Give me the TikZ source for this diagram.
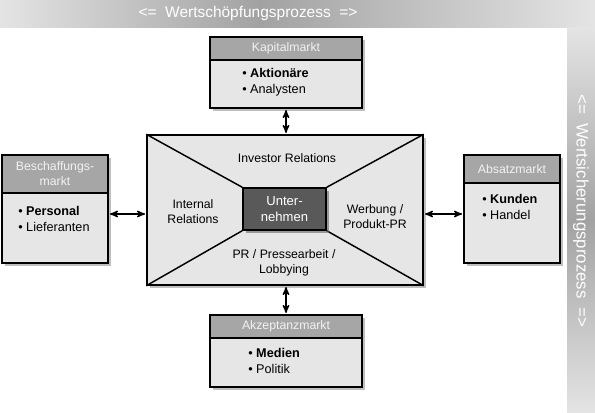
\documentclass[tikz,border=0pt]{standalone}
\usepackage{fontspec}
\setmainfont{Liberation Sans}
\usepackage{tikz}
\usetikzlibrary{
    arrows,
    shadows,
    positioning,
    calc
}
\definecolor{kopfgrau}{HTML}{A6A6A6}
\definecolor{feldgrau}{HTML}{E6E6E6}
\definecolor{kerngrau}{HTML}{595959}
\definecolor{bandhell}{HTML}{E4E4E4}
\definecolor{banddunkel}{HTML}{A2A2A2}
\tikzset{
    kasten/.style={draw=black, line width=1.1pt, fill=feldgrau, inner sep=0pt,
        drop shadow={shadow xshift=2.2pt, shadow yshift=-2.2pt, opacity=0.5}},
    kopf/.style={kasten, fill=kopfgrau, text=white!95!black, align=center,
        font=\fontsize{9.2}{11.4}\selectfont},
    liste/.style={anchor=north west, align=left, inner sep=0pt,
        font=\fontsize{9.5}{12.3}\selectfont},
    feld/.style={align=center, inner sep=0pt, font=\fontsize{9.2}{11.3}\selectfont},
    band/.style={text=white, inner sep=0pt, font=\fontsize{11.6}{14}\selectfont},
    pfeil/.style={<->, >=stealth', line width=1.1pt, shorten <=1pt, shorten >=1pt}
}

\begin{document}
\begin{tikzpicture}[x=0.75pt, y=-0.75pt]
    \useasboundingbox (0,0) rectangle (595,413);

    \shade[left color=bandhell, right color=banddunkel] (0,1) rectangle (260,28);
    \shade[left color=banddunkel, right color=bandhell] (260,1) rectangle (595,28);
    \shade[top color=bandhell, bottom color=banddunkel] (567,28) rectangle (595,220);
    \shade[top color=banddunkel, bottom color=bandhell] (567,220) rectangle (595,413);
    \node[band] (wertschoepfung) at (248,14) {<=\ \ Wertschöpfungsprozess\ \ =>};
    \node[band, rotate=-90, font=\fontsize{12.6}{14}\selectfont] (wertsicherung) at (581,211) {<=\ \ Wertsicherungsprozess\ \ =>};

    \node[kasten, minimum width=207pt, minimum height=112.5pt] (zentrum) at (285,210) {};
    \node[kasten, fill=kerngrau, minimum width=62.25pt, minimum height=31.5pt, drop shadow={opacity=0}] (kern) at (284.5,209) {};
    \draw[line width=1.1pt]
    (zentrum.north west) -- (kern.north west)
    (zentrum.north east) -- (kern.north east)
    (zentrum.south west) -- (kern.south west)
    (zentrum.south east) -- (kern.south east);
    \node[kasten, fill=kerngrau, minimum width=62.25pt, minimum height=31.5pt, drop shadow={opacity=0},
        text=white, align=center, font=\fontsize{9.8}{11.6}\selectfont] (unternehmen) at (284.5,209) {Unter-\\nehmen};

    \node[feld] (investor) at (287,158) {Investor Relations};
    \node[feld] (internal) at (193,212) {Internal\\Relations};
    \node[feld] (werbung) at (375,217) {Werbung /\\Produkt-PR};
    \node[feld] (presse) at (284,263) {PR / Pressearbeit /\\Lobbying};

    \node[kopf, minimum width=114pt, minimum height=17.25pt] (kapitalkopf) at (286,48.5) {Kapitalmarkt};
    \node[kasten, minimum width=114pt, minimum height=36pt] (kapital) at (286,84) {};
    \node[liste] (kapitalliste) at (242,68) {• \textbf{Aktionäre}\\• Analysten};

    \node[kopf, minimum width=79.5pt, minimum height=28.5pt] (beschaffungkopf) at (55,174) {Beschaffungs-\\markt};
    \node[kasten, minimum width=79.5pt, minimum height=52.5pt] (beschaffung) at (55,228) {};
    \node[liste] (beschaffungliste) at (18,206) {• \textbf{Personal}\\• Lieferanten};

    \node[kopf, minimum width=72pt, minimum height=21pt] (absatzkopf) at (512,169) {Absatzmarkt};
    \node[kasten, minimum width=72pt, minimum height=60pt] (absatz) at (512,223) {};
    \node[liste] (absatzliste) at (482,194) {• \textbf{Kunden}\\• Handel};

    \node[kopf, minimum width=114pt, minimum height=17.25pt] (akzeptanzkopf) at (286,326.5) {Akzeptanzmarkt};
    \node[kasten, minimum width=114pt, minimum height=36.75pt] (akzeptanz) at (286,362.5) {};
    \node[liste] (akzeptanzliste) at (248,348) {• \textbf{Medien}\\• Politik};

    \draw[pfeil] (kapital.south) -- (kapital.south |- zentrum.north);
    \draw[pfeil] (akzeptanzkopf.north) -- (akzeptanzkopf.north |- zentrum.south);
    \draw[pfeil] (beschaffung.east |- 0,214) -- (zentrum.west |- 0,214);
    \draw[pfeil] (absatz.west |- 0,214) -- (zentrum.east |- 0,214);
\end{tikzpicture}
\end{document}
